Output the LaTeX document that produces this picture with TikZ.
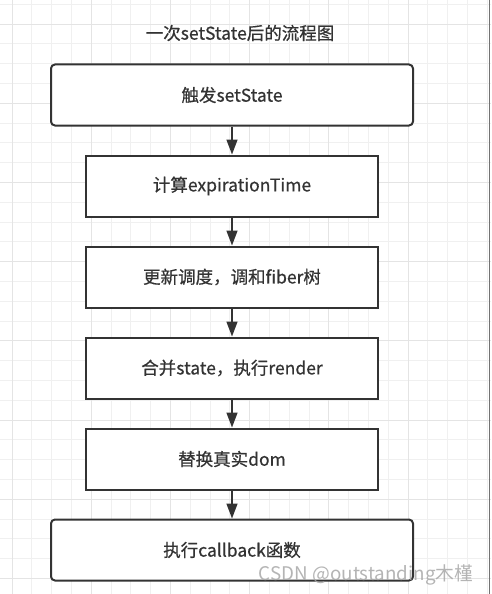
\documentclass[tikz,border=0pt]{standalone}
\usepackage{fontspec}
\setmainfont{Noto Sans CJK SC}
\newfontfamily\medfont{Noto Sans CJK SC}[FakeBold=0.6]
\usepackage{tikz}
\usetikzlibrary{arrows.meta,positioning}
\definecolor{gridminor}{HTML}{F0F0F0}
\definecolor{gridmajor}{HTML}{E4E4E4}
\definecolor{boxline}{HTML}{333333}
\definecolor{marktext}{HTML}{A8A8A8}

\begin{document}
\begin{tikzpicture}[x=1pt,y=-1pt,
  flowbox/.style={draw=boxline,line width=2pt,fill=white,text=boxline,minimum height=61pt,font=\medfont\fontsize{17.5}{21}\selectfont},
  endbox/.style={flowbox,rounded corners=4pt,minimum width=362pt},
  midbox/.style={flowbox,minimum width=292pt},
  flowarrow/.style={draw=boxline,line width=1.5pt,-{Triangle[length=15pt,width=11pt]}}]
  \useasboundingbox (0,0) rectangle (491,594);
  \fill[white] (0,0) rectangle (491,594);
  % grid paper
  \foreach \k in {0,...,24} \draw[gridminor,line width=0.8pt] ({12+19.8*\k},0) -- ({12+19.8*\k},594);
  \foreach \k in {0,...,29} \draw[gridminor,line width=0.8pt] (0,{4.2+19.8*\k}) -- (491,{4.2+19.8*\k});
  \foreach \k in {0,...,5} \draw[gridmajor,line width=0.9pt] ({12+79.2*\k},0) -- ({12+79.2*\k},594);
  \foreach \k in {0,...,7} \draw[gridmajor,line width=0.9pt] (0,{24+79.2*\k}) -- (491,{24+79.2*\k});
  \draw[black!55,line width=1pt] (489.5,0) -- (489.5,594);

  \node[text=boxline,font=\medfont\fontsize{17.5}{21}\selectfont] (title) at (240,33) {一次setState后的流程图};

  \node[endbox] (trigger) at (232,95) {触发setState};
  \node[midbox,below=28pt of trigger] (expire) {计算expirationTime};
  \node[midbox,below=28pt of expire] (reconcile) {更新调度，调和fiber树};
  \node[midbox,below=28pt of reconcile] (render) {合并state，执行render};
  \node[midbox,below=28pt of render] (commit) {替换真实dom};
  \node[endbox,below=28pt of commit] (callback) {执行callback函数};

  \draw[flowarrow] (trigger) -- (expire);
  \draw[flowarrow] (expire) -- (reconcile);
  \draw[flowarrow] (reconcile) -- (render);
  \draw[flowarrow] (render) -- (commit);
  \draw[flowarrow] (commit) -- (callback);

  \node[anchor=east,text=marktext,opacity=0.85,font=\fontsize{18.8}{22}\selectfont] (mark) at (477,575) {CSDN @outstanding木槿};
\end{tikzpicture}
\end{document}
